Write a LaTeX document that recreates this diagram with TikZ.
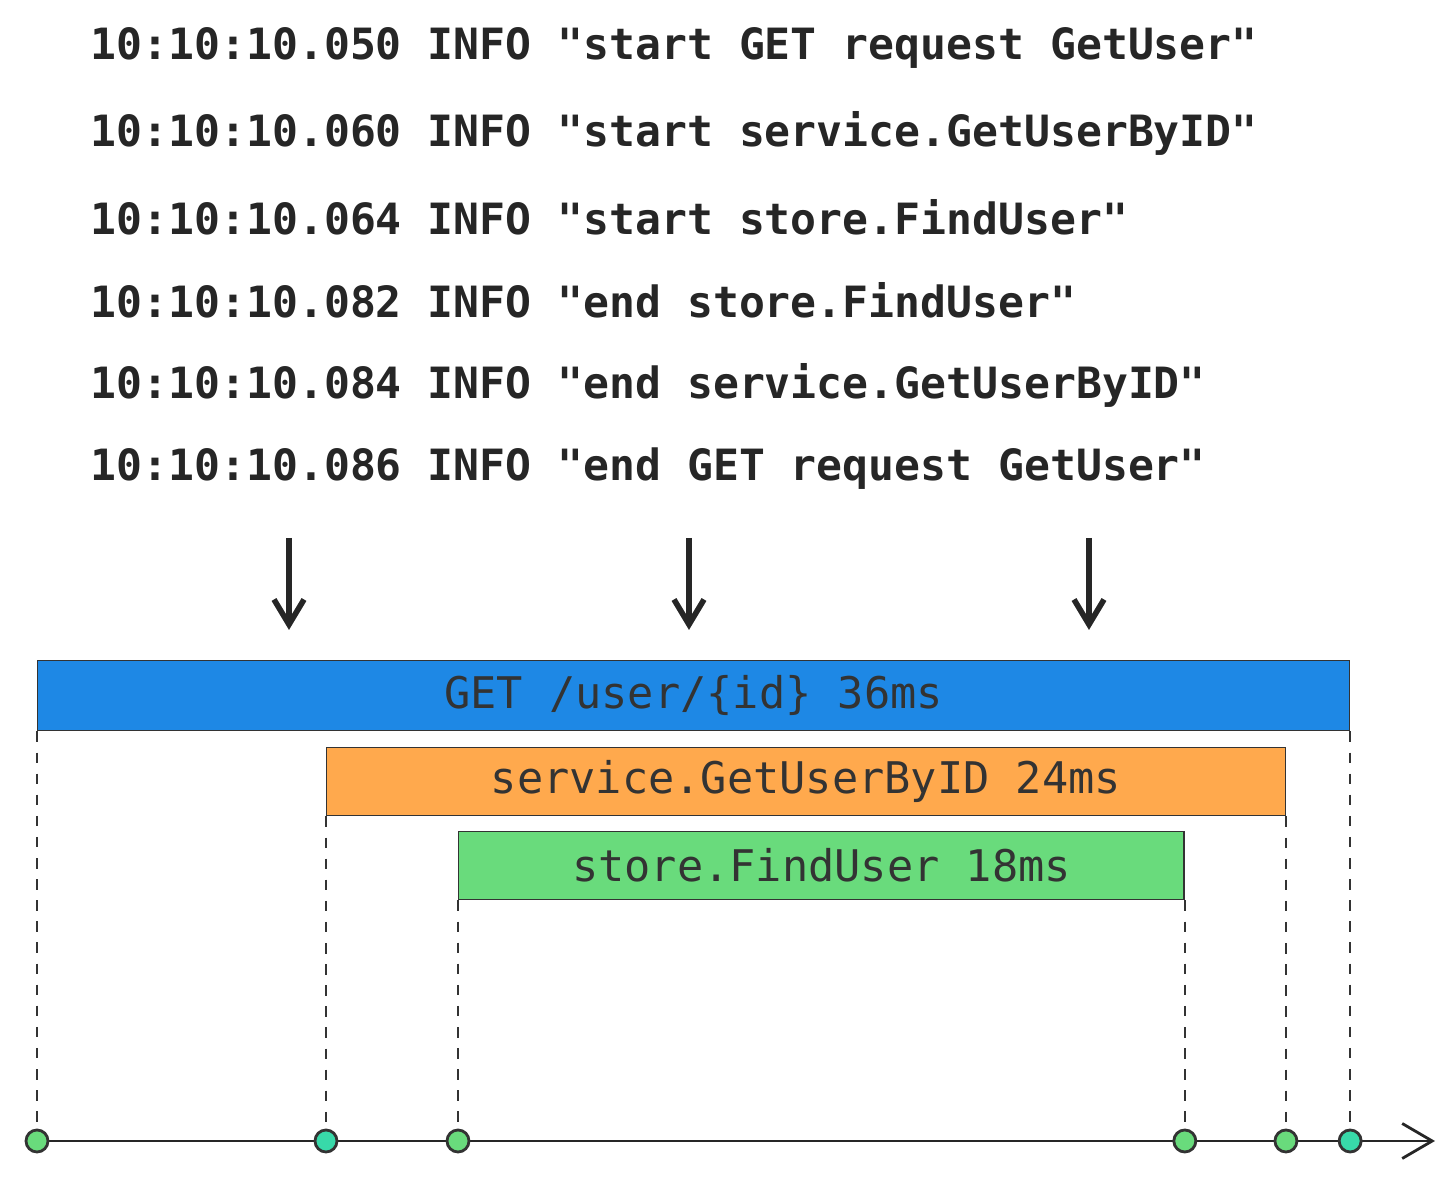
\documentclass[tikz,border=0pt]{standalone}
\usepackage{fontspec}
\setmonofont{DejaVu Sans Mono}
\usetikzlibrary{arrows.meta}
\definecolor{getblue}{HTML}{1E88E5}
\definecolor{svcorange}{HTML}{FFA94D}
\definecolor{storegreen}{HTML}{69DB7C}
\definecolor{dotteal}{HTML}{38D9A9}
\definecolor{bartext}{HTML}{333333}
\tikzset{
  logline/.style={anchor=west, inner sep=0pt, font=\fontsize{12.25}{15}\ttfamily\bfseries, text=black!85},
  span/.style={draw=black!80, thin, anchor=north west, inner sep=0pt, font=\fontsize{12.4}{15}\ttfamily, text=bartext},
  drop/.style={dashed, black!80, thin},
  tick/.style={circle, draw=black!80, thick, minimum size=0.22cm, inner sep=0pt},
}
\begin{document}
\begin{tikzpicture}[x=0.01cm, y=-0.01cm]
\useasboundingbox (0,0) rectangle (1456,1195);
% log lines
\node [logline] (l1) at (90,48) {10:10:10.050 INFO "start GET request GetUser"};
\node [logline] (l2) at (90,133) {10:10:10.060 INFO "start service.GetUserByID"};
\node [logline] (l3) at (90,217) {10:10:10.064 INFO "start store.FindUser"};
\node [logline] (l4) at (90,300) {10:10:10.082 INFO "end store.FindUser"};
\node [logline] (l5) at (90,385) {10:10:10.084 INFO "end service.GetUserByID"};
\node [logline] (l6) at (90,469) {10:10:10.086 INFO "end GET request GetUser"};
% arrows
\foreach \x in {289,689,1089}
  \draw [-{Straight Barb[length=0.25cm,width=0.3cm]}, line width=1.6pt, black!85] (\x,538) -- (\x,630);
% spans
\node [span, fill=getblue, minimum width=13.11cm, minimum height=0.70cm] (get) at (37,660) {GET /user/\{id\} 36ms};
\node [span, fill=svcorange, minimum width=9.58cm, minimum height=0.68cm] (svc) at (326,747) {service.GetUserByID 24ms};
\node [span, fill=storegreen, minimum width=7.25cm, minimum height=0.68cm] (store) at (458,831) {store.FindUser 18ms};
% time axis
\coordinate (t0) at (37,1141);
\coordinate (tend) at (1435,1141);
\draw [-{Straight Barb[length=0.3cm,width=0.35cm]}, thick, black!85] (t0) -- (tend);
\node [tick, fill=storegreen] (d1) at (get.south west |- t0) {};
\node [tick, fill=dotteal] (d2) at (svc.south west |- t0) {};
\node [tick, fill=storegreen] (d3) at (store.south west |- t0) {};
\node [tick, fill=storegreen] (d4) at (store.south east |- t0) {};
\node [tick, fill=storegreen] (d5) at (svc.south east |- t0) {};
\node [tick, fill=dotteal] (d6) at (get.south east |- t0) {};
\draw [drop] (get.south west) -- (d1);
\draw [drop] (svc.south west) -- (d2);
\draw [drop] (store.south west) -- (d3);
\draw [drop] (store.south east) -- (d4);
\draw [drop] (svc.south east) -- (d5);
\draw [drop] (get.south east) -- (d6);
\end{tikzpicture}
\end{document}
